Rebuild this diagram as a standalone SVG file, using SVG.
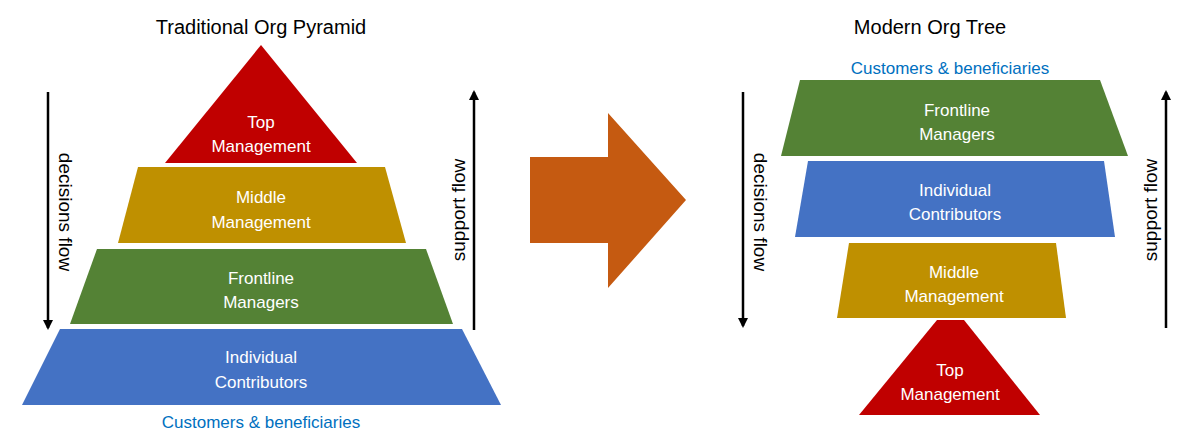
<svg xmlns="http://www.w3.org/2000/svg" width="1195" height="445" viewBox="0 0 1195 445">
<style>
text{font-family:"Liberation Sans",Arial,sans-serif;font-size:17px;text-anchor:middle}
.w{fill:#fff}.t{font-size:20px;fill:#000}.c{fill:#0070C0}.f{font-size:19px;fill:#000}
.red{fill:#C00000}.yel{fill:#BF9000}.grn{fill:#548235}.blu{fill:#4472C4}
.ar{stroke:#000;stroke-width:2.5;fill:none;marker-end:url(#ah)}
</style>
<defs><marker id="ah" viewBox="0 0 10 10" refX="8" refY="5" markerWidth="4" markerHeight="4" orient="auto"><path d="M0,0L10,5L0,10z" fill="#000"/></marker></defs>
<text class="t" x="261" y="34">Traditional Org Pyramid</text>
<text class="t" x="930" y="34">Modern Org Tree</text>
<g id="l-top"><polygon class="red" points="261,45 357,163 165,163"/><text class="w" x="261" y="128">Top</text><text class="w" x="261" y="152">Management</text></g>
<g id="l-mid"><polygon class="yel" points="138,167 385,167 406,243 118,243"/><text class="w" x="261" y="203">Middle</text><text class="w" x="261" y="228">Management</text></g>
<g id="l-front"><polygon class="grn" points="97,249 426,249 453,324 70,324"/><text class="w" x="261" y="284">Frontline</text><text class="w" x="261" y="308">Managers</text></g>
<g id="l-ind"><polygon class="blu" points="60,329 462,329 501,405 22,405"/><text class="w" x="261" y="363">Individual</text><text class="w" x="261" y="388">Contributors</text></g>
<text class="c" x="261" y="428">Customers &amp; beneficiaries</text>
<g id="big-arrow"><polygon fill="#C55A11" points="530,157 608,157 608,113 686,200 608,288 608,243 530,243"/></g>
<text class="c" x="950" y="74">Customers &amp; beneficiaries</text>
<g id="r-front"><polygon class="grn" points="800,80 1100,80 1128,156 781,156"/><text class="w" x="957" y="116">Frontline</text><text class="w" x="957" y="140">Managers</text></g>
<g id="r-ind"><polygon class="blu" points="808,161 1104,161 1115,237 795,237"/><text class="w" x="955" y="196">Individual</text><text class="w" x="955" y="220">Contributors</text></g>
<g id="r-mid"><polygon class="yel" points="849,243 1056,243 1066,318 837,318"/><text class="w" x="954" y="278">Middle</text><text class="w" x="954" y="302">Management</text></g>
<g id="r-top"><polygon class="red" points="937,320 964,320 1040,415 859,415"/><text class="w" x="950" y="376">Top</text><text class="w" x="950" y="400">Management</text></g>
<g id="connectors">
<line class="ar" x1="48" y1="92" x2="48" y2="328"/>
<line class="ar" x1="474" y1="330" x2="474" y2="92"/>
<line class="ar" x1="743" y1="92" x2="743" y2="326"/>
<line class="ar" x1="1166" y1="328" x2="1166" y2="92"/>
</g>
<text class="f" transform="translate(59,212) rotate(90)">decisions flow</text>
<text class="f" transform="translate(465,210) rotate(-90)">support flow</text>
<text class="f" transform="translate(754,212) rotate(90)">decisions flow</text>
<text class="f" transform="translate(1157,210) rotate(-90)">support flow</text>
</svg>
